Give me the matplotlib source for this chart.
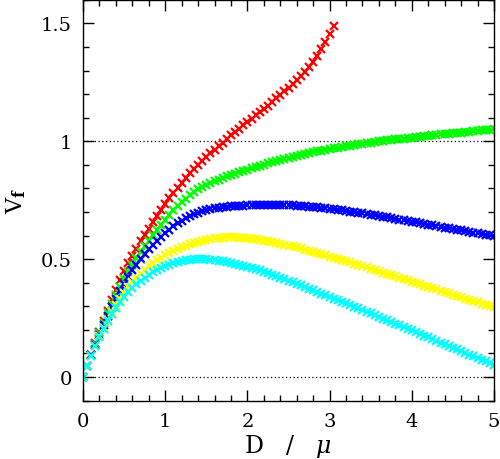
import numpy as np
import matplotlib
matplotlib.use("Agg")
import matplotlib.pyplot as plt
from matplotlib.ticker import MultipleLocator, FuncFormatter

step = 0.05
x_full = np.round(np.arange(0, 101) * step, 2)
x_red = np.round(np.arange(0, 62) * step, 2)

red = [0.000, 0.048, 0.095, 0.143, 0.190, 0.236, 0.280, 0.325, 0.368, 0.410,
       0.448, 0.483, 0.515, 0.545, 0.575, 0.603, 0.630, 0.656, 0.682, 0.709,
       0.735, 0.759, 0.782, 0.804, 0.825, 0.845, 0.865, 0.883, 0.901, 0.918,
       0.935, 0.950, 0.965, 0.980, 0.995, 1.010, 1.025, 1.039, 1.053, 1.068,
       1.082, 1.096, 1.110, 1.124, 1.138, 1.152, 1.167, 1.182, 1.197, 1.212,
       1.228, 1.244, 1.260, 1.277, 1.295, 1.315, 1.337, 1.362, 1.390, 1.421,
       1.455, 1.488]

green = [0.000, 0.048, 0.095, 0.141, 0.185, 0.228, 0.270, 0.309, 0.346, 0.381,
         0.414, 0.446, 0.477, 0.505, 0.531, 0.556, 0.579, 0.602, 0.625, 0.647,
         0.668, 0.688, 0.708, 0.725, 0.742, 0.757, 0.771, 0.784, 0.796, 0.806,
         0.815, 0.823, 0.831, 0.838, 0.845, 0.851, 0.857, 0.863, 0.869, 0.875,
         0.880, 0.886, 0.891, 0.896, 0.901, 0.906, 0.911, 0.916, 0.921, 0.925,
         0.930, 0.934, 0.938, 0.942, 0.946, 0.950, 0.954, 0.957, 0.961, 0.964,
         0.967, 0.970, 0.973, 0.976, 0.979, 0.982, 0.985, 0.988, 0.990, 0.993,
         0.995, 0.998, 1.000, 1.002, 1.004, 1.006, 1.008, 1.010, 1.012, 1.014,
         1.016, 1.018, 1.020, 1.022, 1.023, 1.025, 1.027, 1.029, 1.030, 1.032,
         1.034, 1.036, 1.037, 1.039, 1.041, 1.043, 1.045, 1.046, 1.048, 1.050,
         1.051]

blue = [0.000, 0.047, 0.093, 0.137, 0.180, 0.221, 0.260, 0.297, 0.332, 0.365,
        0.396, 0.425, 0.452, 0.477, 0.500, 0.522, 0.542, 0.561, 0.578, 0.595,
        0.610, 0.625, 0.639, 0.652, 0.664, 0.674, 0.683, 0.691, 0.698, 0.704,
        0.709, 0.713, 0.716, 0.719, 0.721, 0.723, 0.724, 0.725, 0.726, 0.727,
        0.728, 0.729, 0.729, 0.730, 0.730, 0.730, 0.730, 0.730, 0.730, 0.729,
        0.729, 0.728, 0.727, 0.726, 0.725, 0.723, 0.722, 0.720, 0.718, 0.716,
        0.714, 0.712, 0.710, 0.707, 0.705, 0.702, 0.700, 0.697, 0.694, 0.692,
        0.689, 0.686, 0.683, 0.680, 0.677, 0.674, 0.671, 0.668, 0.665, 0.662,
        0.659, 0.656, 0.653, 0.650, 0.647, 0.644, 0.641, 0.638, 0.634, 0.631,
        0.628, 0.625, 0.622, 0.619, 0.616, 0.613, 0.610, 0.607, 0.604, 0.601,
        0.598]

yellow = [0.000, 0.046, 0.090, 0.132, 0.172, 0.209, 0.244, 0.276, 0.306, 0.333,
          0.358, 0.381, 0.402, 0.421, 0.439, 0.455, 0.470, 0.483, 0.495, 0.506,
          0.516, 0.526, 0.535, 0.543, 0.551, 0.558, 0.564, 0.569, 0.574, 0.578,
          0.582, 0.585, 0.588, 0.590, 0.591, 0.592, 0.592, 0.592, 0.591, 0.590,
          0.588, 0.586, 0.584, 0.582, 0.579, 0.576, 0.573, 0.570, 0.566, 0.562,
          0.558, 0.554, 0.550, 0.546, 0.541, 0.536, 0.531, 0.526, 0.521, 0.516,
          0.511, 0.506, 0.501, 0.496, 0.491, 0.486, 0.481, 0.476, 0.470, 0.465,
          0.460, 0.454, 0.449, 0.443, 0.438, 0.432, 0.427, 0.421, 0.416, 0.410,
          0.405, 0.399, 0.394, 0.388, 0.383, 0.377, 0.372, 0.366, 0.361, 0.355,
          0.350, 0.344, 0.339, 0.333, 0.328, 0.322, 0.317, 0.311, 0.306, 0.300,
          0.295]

cyan = [0.000, 0.045, 0.089, 0.130, 0.168, 0.203, 0.236, 0.266, 0.293, 0.318,
        0.340, 0.360, 0.378, 0.394, 0.409, 0.422, 0.434, 0.445, 0.455, 0.463,
        0.471, 0.477, 0.483, 0.488, 0.492, 0.495, 0.497, 0.499, 0.500, 0.500,
        0.499, 0.498, 0.496, 0.494, 0.491, 0.488, 0.484, 0.480, 0.476, 0.472,
        0.467, 0.462, 0.457, 0.452, 0.446, 0.440, 0.434, 0.428, 0.422, 0.415,
        0.409, 0.402, 0.396, 0.389, 0.382, 0.375, 0.368, 0.361, 0.354, 0.347,
        0.340, 0.333, 0.326, 0.319, 0.312, 0.305, 0.298, 0.291, 0.284, 0.277,
        0.270, 0.263, 0.256, 0.248, 0.241, 0.234, 0.227, 0.219, 0.212, 0.205,
        0.198, 0.190, 0.183, 0.176, 0.168, 0.161, 0.154, 0.146, 0.139, 0.132,
        0.124, 0.117, 0.110, 0.102, 0.095, 0.088, 0.080, 0.073, 0.066, 0.058,
        0.051]

series = [(x_red, red, "#ff0000"),
          (x_full, green, "#00ff00"),
          (x_full, blue, "#0000ff"),
          (x_full, yellow, "#ffff00"),
          (x_full, cyan, "#00ffff")]

ref_lines = [0.0, 1.0]

plt.rcParams["font.family"] = ["DejaVu Serif"]
plt.rcParams["mathtext.fontset"] = "dejavuserif"

fig = plt.figure(figsize=(5.0, 4.6), dpi=100)
ax = fig.add_axes([0.166, 0.127, 0.822, 0.871])

for yv in ref_lines:
    ax.axhline(yv, color="black", linestyle=(0, (1, 2)), linewidth=0.9, zorder=1)

for xs, ys, c in series:
    ax.plot(xs, ys, linestyle="none", marker="x", markersize=6,
            markeredgewidth=1.6, color=c, zorder=2)

ax.set_xlim(0, 5)
ax.set_ylim(-0.1, 1.6)
ax.xaxis.set_major_locator(MultipleLocator(1))
ax.xaxis.set_minor_locator(MultipleLocator(0.2))
ax.yaxis.set_major_locator(MultipleLocator(0.5))
ax.yaxis.set_minor_locator(MultipleLocator(0.1))
fmt = FuncFormatter(lambda v, p: "%g" % round(v, 3))
ax.xaxis.set_major_formatter(fmt)
ax.yaxis.set_major_formatter(fmt)
ax.tick_params(which="both", direction="in", top=True, right=True, width=1.0)
ax.tick_params(which="major", length=8, labelsize=14, pad=8)
ax.tick_params(which="minor", length=4.5)
for s in ax.spines.values():
    s.set_linewidth(1.0)

ax.set_xlabel(r"D   /   $\mu$", fontsize=17, labelpad=2)
ax.set_ylabel(r"V$_\mathbf{f}$", fontsize=16)
ax.yaxis.set_label_coords(-0.135, 0.5)

fig.savefig("out.png", dpi=100)
